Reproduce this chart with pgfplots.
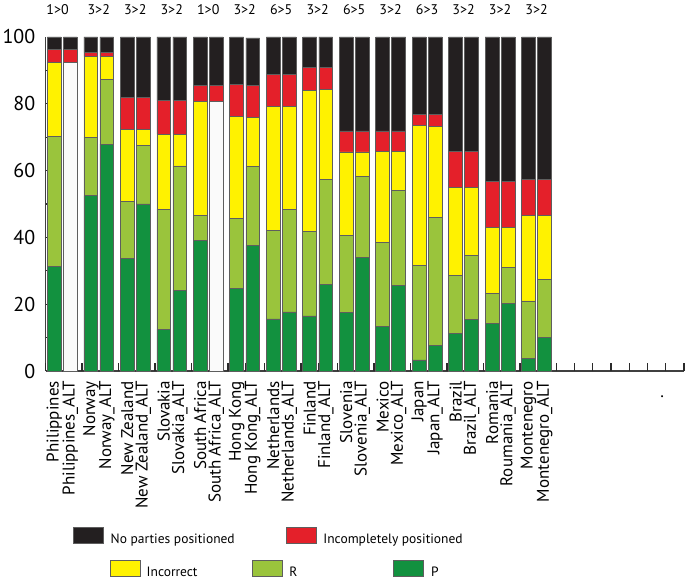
\documentclass[border=0pt]{standalone}
\usepackage{fontspec}
\setmainfont{PT Sans}
\usepackage{pgfplots}
\usepackage{pgfplotstable}
\pgfplotsset{compat=1.18}
\definecolor{cNone}{HTML}{231F20}
\definecolor{cInc}{HTML}{E4202A}
\definecolor{cWrong}{HTML}{FFF200}
\definecolor{cR}{HTML}{9AC43C}
\definecolor{cP}{HTML}{12913F}
\definecolor{cW}{HTML}{FAFAFA}
\definecolor{cEdge}{HTML}{5E5E5E}
\definecolor{cTick}{HTML}{2A2A2A}

\pgfplotstableread{
x     P    R    I    W    C    N
0.48  31.2 39.0 22.3 0    3.9  3.6
1.36  0    0    0    92.5 3.9  3.6
2.48  52.5 17.5 24.1 0    1.2  4.7
3.36  67.9 19.3 7.0  0    1.1  4.7
4.48  33.7 17.0 21.7 0    9.5  18.1
5.36  50.0 17.5 4.9  0    9.5  18.1
6.48  12.5 36.0 22.4 0    10.2 18.9
7.36  24.2 37.2 9.5  0    10.2 18.9
8.48  39.1 7.5  34.0 0    5.0  14.4
9.36  0    0    0    80.6 5.0  14.4
10.48 24.8 20.9 30.4 0    9.8  14.1
11.36 37.6 23.7 14.6 0    9.7  14.1
12.48 15.6 26.4 37.2 0    9.6  11.2
13.36 17.7 30.7 30.8 0    9.6  11.2
14.48 16.5 25.4 42.1 0    6.9  9.1
15.36 25.9 31.4 26.9 0    6.8  9.0
16.48 17.6 23.0 25.0 0    6.3  28.1
17.36 34.1 24.2 7.3  0    6.3  28.1
18.48 13.3 25.2 27.2 0    6.2  28.1
19.36 25.7 28.3 11.7 0    6.2  28.1
20.48 3.3  28.2 42.0 0    3.4  23.1
21.36 7.7  38.3 27.3 0    3.6  23.1
22.48 11.3 17.3 26.4 0    10.8 34.2
23.36 15.5 19.1 20.4 0    10.8 34.2
24.48 14.3 9.0  19.7 0    13.7 43.3
25.36 20.3 10.7 11.9 0    13.8 43.3
26.48 3.8  17.2 25.7 0    10.6 42.7
27.36 10.1 17.4 19.2 0    10.6 42.7
}\data

\pgfplotstableread{
t    h
0    2.3
1    2.3
2    2.3
3    2.3
4    2.3
5    2.3
6    2.3
7    2.3
8    2.3
9    2.3
10   2.3
11   2.3
12   2.3
13   2.3
14   2.3
15   2.3
16   2.3
17   2.3
18   2.3
19   2.3
20   2.3
21   2.3
22   2.3
23   2.3
24   2.3
25   2.3
26   2.3
27   2.3
28   2.3
29   2.3
30   2.3
31   2.3
32   2.3
33   2.3
34   2.3
35   2.3
}\xticks

\pgfplotstableread{
w    t
0.22 10
0.22 20
0.22 30
0.22 40
0.22 50
0.22 60
0.22 70
0.22 80
0.22 90
}\yticks

\pgfplotsset{
  base/.style={
    at={(0,0)}, anchor=south west,
    scale only axis, width=638.5pt, height=334pt,
    xmin=0, xmax=35, ymin=0, ymax=100,
  },
  swatch/.style={
    legend image code/.code={\draw[##1,draw=cEdge,line width=0.7pt] (0pt,-3.5pt) rectangle (30pt,12.5pt);},
    legend cell align=left,
    legend style={draw=none, fill=none, inner sep=0pt, outer sep=0pt,
      nodes={inner sep=0pt}, column sep=0pt,
      font=\fontsize{13.5}{16}\selectfont},
  },
}

\begin{document}
\begin{tikzpicture}
% axis lines, tick marks and y labels
\begin{axis}[base,
  axis lines*=left,
  axis line style={black!75, line width=1.2pt},
  major tick length=0pt,
  xtick=\empty,
  ytick={0,20,...,100},
  yticklabel style={font=\fontsize{20}{20}\selectfont, inner sep=0pt, xshift=-10pt},
  /pgf/number format/assume math mode=true,
  clip=false,
]
\addplot[ycomb, no marks, cTick, line width=1.4pt] table[x=t,y=h]{\xticks};
\addplot[xcomb, no marks, cTick, line width=1.2pt] table[x=w,y=t]{\yticks};
\node[font=\fontsize{17}{17}\selectfont] at (axis cs:33.8,0) [yshift=-26pt] {.};
\end{axis}

% bars
\begin{axis}[base,
  ybar stacked, bar width=0.75,
  hide x axis, hide y axis,
  clip=false,
]
\addplot[fill=cP, draw=cEdge, line width=0.7pt] table[x=x,y=P]{\data};
\addplot[fill=cR, draw=cEdge, line width=0.7pt] table[x=x,y=R]{\data};
\addplot[fill=cWrong, draw=cEdge, line width=0.7pt] table[x=x,y=I]{\data};
\addplot[fill=cW, draw=cEdge, line width=0.7pt] table[x=x,y=W]{\data};
\addplot[fill=cInc, draw=cEdge, line width=0.7pt] table[x=x,y=C]{\data};
\addplot[fill=cNone, draw=cEdge, line width=0.7pt] table[x=x,y=N]{\data};
\end{axis}

\begin{axis}[base, swatch,
  hide y axis,
  axis x line*=top,
  x axis line style={draw=none},
  major tick length=0pt,
  xtick={0.66,2.92,4.92,6.92,8.92,10.92,12.92,14.92,16.92,18.92,20.92,22.92,24.92,26.92},
  xticklabels={1>0,3>2,3>2,3>2,1>0,3>2,6>5,3>2,6>5,3>2,6>3,3>2,3>2,3>2},
  xticklabel style={font=\fontsize{14}{14}\selectfont, anchor=base, inner sep=0pt, yshift=22pt},
  legend columns=2,
  legend style={at={(0.0431,-0.467)}, anchor=north west},
]
\addlegendimage{fill=cNone}
\addlegendentry{\hspace*{7pt}\makebox[175pt][l]{No parties positioned}}
\addlegendimage{fill=cInc}
\addlegendentry{\hspace*{7pt}Incompletely positioned}
\end{axis}

\begin{axis}[base, swatch,
  hide y axis,
  axis x line*=bottom,
  x axis line style={draw=none},
  major tick length=0pt,
  xtick={0.48,1.36,2.48,3.36,4.48,5.36,6.48,7.36,8.48,9.36,10.48,11.36,12.48,13.36,14.48,15.36,16.48,17.36,18.48,19.36,20.48,21.36,22.48,23.36,24.48,25.36,26.48,27.36},
  xticklabels={Philippines,Philippines\_ALT,Norway,Norway\_ALT,New Zealand,New Zealand\_ALT,Slovakia,Slovakia\_ALT,South Africa,South Africa\_ALT,Hong Kong,Hong Kong\_ALT,Netherlands,Netherlands\_ALT,Finland,Finland\_ALT,Slovenia,Slovenia\_ALT,Mexico,Mexico\_ALT,Japan,Japan\_ALT,Brazil,Brazil\_ALT,Romania,Roumania\_ALT,Montenegro,Montenegro\_ALT},
  xticklabel style={rotate=90, anchor=east, inner xsep=10pt, inner ysep=0pt,
      font=\fontsize{17}{17}\selectfont},
  legend columns=3,
  legend style={at={(0.101,-0.566)}, anchor=north west},
]
\addlegendimage{fill=cWrong}
\addlegendentry{\hspace*{6pt}\makebox[105pt][l]{Incorrect}}
\addlegendimage{fill=cR}
\addlegendentry{\hspace*{7pt}\makebox[104pt][l]{R}}
\addlegendimage{fill=cP}
\addlegendentry{\hspace*{7pt}P}
\end{axis}

\pgfresetboundingbox
\path[use as bounding box] (-45.5pt,-210pt) rectangle (639.5pt,371pt);
\end{tikzpicture}
\end{document}
